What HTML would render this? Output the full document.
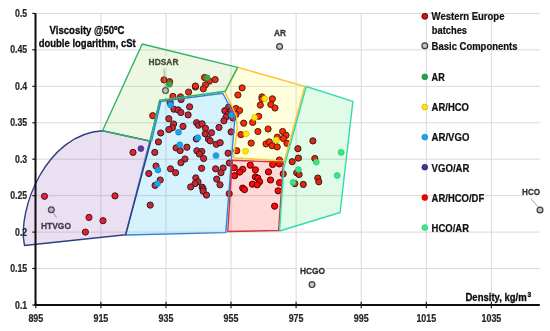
<!DOCTYPE html>
<html><head><meta charset="utf-8"><style>
html,body{margin:0;padding:0;background:#fff;}
body{width:550px;height:331px;overflow:hidden;}
svg{display:block;}
text{font-family:"Liberation Sans",Arial,sans-serif;font-weight:bold;fill:#262626;}
.g{stroke:#d9d9d9;stroke-width:1;}
.ax{font-size:10px;fill:#262626;stroke:#262626;stroke-width:0.2px;}
.lg{font-size:10.5px;fill:#111;stroke:#111;stroke-width:0.22px;}
.lb{font-size:9.3px;fill:#333;stroke:#333;stroke-width:0.3px;}
.tt{font-size:11.6px;fill:#0a0a0a;stroke:#0a0a0a;stroke-width:0.3px;}
</style></head><body>
<svg width="550" height="331" viewBox="0 0 550 331">
<rect width="550" height="331" fill="#fff"/>
<line x1="100.88" y1="13.4" x2="100.88" y2="305" class="g"/>
<line x1="165.96" y1="13.4" x2="165.96" y2="305" class="g"/>
<line x1="231.04" y1="13.4" x2="231.04" y2="305" class="g"/>
<line x1="296.12" y1="13.4" x2="296.12" y2="305" class="g"/>
<line x1="361.20" y1="13.4" x2="361.20" y2="305" class="g"/>
<line x1="426.28" y1="13.4" x2="426.28" y2="305" class="g"/>
<line x1="491.36" y1="13.4" x2="491.36" y2="305" class="g"/>
<line x1="35.5" y1="268.55" x2="540" y2="268.55" class="g"/>
<line x1="35.5" y1="232.10" x2="540" y2="232.10" class="g"/>
<line x1="35.5" y1="195.65" x2="540" y2="195.65" class="g"/>
<line x1="35.5" y1="159.20" x2="540" y2="159.20" class="g"/>
<line x1="35.5" y1="122.75" x2="540" y2="122.75" class="g"/>
<line x1="35.5" y1="86.30" x2="540" y2="86.30" class="g"/>
<line x1="35.5" y1="49.85" x2="540" y2="49.85" class="g"/>
<line x1="35.5" y1="13.40" x2="540" y2="13.40" class="g"/>
<rect x="37" y="25" width="100" height="24" fill="#fff"/>
<text x="87" y="34.1" class="tt" text-anchor="middle" textLength="75" lengthAdjust="spacingAndGlyphs">Viscosity @50ºC</text>
<text x="87.2" y="47.1" class="tt" text-anchor="middle" textLength="97" lengthAdjust="spacingAndGlyphs">double logarithm, cSt</text>
<rect x="297" y="264" width="29.5" height="11" fill="#fff"/>
<rect x="147" y="56" width="33" height="11" fill="#fff"/>
<rect x="39.5" y="220.5" width="33" height="10.5" fill="#fff"/>
<rect x="272.5" y="28" width="15" height="10.5" fill="#fff"/>
<rect x="521.8" y="185" width="28.2" height="12" fill="#fff"/>
<text x="148.6" y="64.6" class="lb" textLength="29.9" lengthAdjust="spacingAndGlyphs">HDSAR</text>
<text x="41.0" y="228.9" class="lb" textLength="30.0" lengthAdjust="spacingAndGlyphs">HTVGO</text>
<text x="274.0" y="36.4" class="lb" textLength="11.9" lengthAdjust="spacingAndGlyphs">AR</text>
<text x="299.9" y="273.7" class="lb" textLength="25.1" lengthAdjust="spacingAndGlyphs">HCGO</text>
<text x="522.1" y="194.7" class="lb" textLength="17.9" lengthAdjust="spacingAndGlyphs">HCO</text>

<circle cx="164.0" cy="79.9" r="3.1" fill="#ff0a0a" stroke="#300404" stroke-width="1.0"/>
<circle cx="169.6" cy="81.7" r="3.1" fill="#ff0a0a" stroke="#300404" stroke-width="1.0"/>
<circle cx="188.6" cy="92.1" r="3.1" fill="#ff0a0a" stroke="#300404" stroke-width="1.0"/>
<circle cx="195.4" cy="87.0" r="3.1" fill="#ff0a0a" stroke="#300404" stroke-width="1.0"/>
<circle cx="195.4" cy="86.0" r="3.1" fill="#ff0a0a" stroke="#300404" stroke-width="1.0"/>
<circle cx="172.9" cy="96.4" r="3.1" fill="#ff0a0a" stroke="#300404" stroke-width="1.0"/>
<circle cx="180.5" cy="96.9" r="3.1" fill="#ff0a0a" stroke="#300404" stroke-width="1.0"/>
<circle cx="181.1" cy="99.6" r="3.1" fill="#ff0a0a" stroke="#300404" stroke-width="1.0"/>
<circle cx="170.2" cy="102.7" r="3.1" fill="#ff0a0a" stroke="#300404" stroke-width="1.0"/>
<circle cx="189.6" cy="106.8" r="3.1" fill="#ff0a0a" stroke="#300404" stroke-width="1.0"/>
<circle cx="173.9" cy="109.2" r="3.1" fill="#ff0a0a" stroke="#300404" stroke-width="1.0"/>
<circle cx="178.1" cy="109.9" r="3.1" fill="#ff0a0a" stroke="#300404" stroke-width="1.0"/>
<circle cx="180.9" cy="112.5" r="3.1" fill="#ff0a0a" stroke="#300404" stroke-width="1.0"/>
<circle cx="188.1" cy="114.9" r="3.1" fill="#ff0a0a" stroke="#300404" stroke-width="1.0"/>
<circle cx="204.5" cy="77.5" r="3.1" fill="#ff0a0a" stroke="#300404" stroke-width="1.0"/>
<circle cx="209.4" cy="81.2" r="3.1" fill="#ff0a0a" stroke="#300404" stroke-width="1.0"/>
<circle cx="215.2" cy="79.6" r="3.1" fill="#ff0a0a" stroke="#300404" stroke-width="1.0"/>
<circle cx="205.5" cy="84.8" r="3.1" fill="#ff0a0a" stroke="#300404" stroke-width="1.0"/>
<circle cx="203.3" cy="88.8" r="3.1" fill="#ff0a0a" stroke="#300404" stroke-width="1.0"/>
<circle cx="242.1" cy="87.9" r="3.1" fill="#ff0a0a" stroke="#300404" stroke-width="1.0"/>
<circle cx="237.9" cy="95.0" r="3.1" fill="#ff0a0a" stroke="#300404" stroke-width="1.0"/>
<circle cx="262.0" cy="96.9" r="3.1" fill="#ff0a0a" stroke="#300404" stroke-width="1.0"/>
<circle cx="262.0" cy="99.0" r="3.1" fill="#ff0a0a" stroke="#300404" stroke-width="1.0"/>
<circle cx="272.4" cy="98.8" r="3.1" fill="#ff0a0a" stroke="#300404" stroke-width="1.0"/>
<circle cx="260.3" cy="105.1" r="3.1" fill="#ff0a0a" stroke="#300404" stroke-width="1.0"/>
<circle cx="270.8" cy="104.5" r="3.1" fill="#ff0a0a" stroke="#300404" stroke-width="1.0"/>
<circle cx="275.0" cy="108.0" r="3.1" fill="#ff0a0a" stroke="#300404" stroke-width="1.0"/>
<circle cx="152.7" cy="115.7" r="3.1" fill="#ff0a0a" stroke="#300404" stroke-width="1.0"/>
<circle cx="168.8" cy="118.7" r="3.1" fill="#ff0a0a" stroke="#300404" stroke-width="1.0"/>
<circle cx="173.6" cy="124.0" r="3.1" fill="#ff0a0a" stroke="#300404" stroke-width="1.0"/>
<circle cx="183.0" cy="126.4" r="3.1" fill="#ff0a0a" stroke="#300404" stroke-width="1.0"/>
<circle cx="172.4" cy="127.8" r="3.1" fill="#ff0a0a" stroke="#300404" stroke-width="1.0"/>
<circle cx="168.8" cy="129.6" r="3.1" fill="#ff0a0a" stroke="#300404" stroke-width="1.0"/>
<circle cx="160.7" cy="133.0" r="3.1" fill="#ff0a0a" stroke="#300404" stroke-width="1.0"/>
<circle cx="196.6" cy="122.7" r="3.1" fill="#ff0a0a" stroke="#300404" stroke-width="1.0"/>
<circle cx="198.5" cy="125.2" r="3.1" fill="#ff0a0a" stroke="#300404" stroke-width="1.0"/>
<circle cx="196.3" cy="139.0" r="3.1" fill="#ff0a0a" stroke="#300404" stroke-width="1.0"/>
<circle cx="224.8" cy="110.7" r="3.1" fill="#ff0a0a" stroke="#300404" stroke-width="1.0"/>
<circle cx="228.7" cy="107.1" r="3.1" fill="#ff0a0a" stroke="#300404" stroke-width="1.0"/>
<circle cx="228.1" cy="114.4" r="3.1" fill="#ff0a0a" stroke="#300404" stroke-width="1.0"/>
<circle cx="226.0" cy="117.1" r="3.1" fill="#ff0a0a" stroke="#300404" stroke-width="1.0"/>
<circle cx="223.9" cy="120.8" r="3.1" fill="#ff0a0a" stroke="#300404" stroke-width="1.0"/>
<circle cx="231.1" cy="110.5" r="3.1" fill="#ff0a0a" stroke="#300404" stroke-width="1.0"/>
<circle cx="232.9" cy="118.0" r="3.1" fill="#ff0a0a" stroke="#300404" stroke-width="1.0"/>
<circle cx="236.0" cy="108.5" r="3.1" fill="#ff0a0a" stroke="#300404" stroke-width="1.0"/>
<circle cx="239.6" cy="110.5" r="3.1" fill="#ff0a0a" stroke="#300404" stroke-width="1.0"/>
<circle cx="236.0" cy="114.4" r="3.1" fill="#ff0a0a" stroke="#300404" stroke-width="1.0"/>
<circle cx="243.7" cy="123.2" r="3.1" fill="#ff0a0a" stroke="#300404" stroke-width="1.0"/>
<circle cx="202.1" cy="123.8" r="3.1" fill="#ff0a0a" stroke="#300404" stroke-width="1.0"/>
<circle cx="205.5" cy="128.3" r="3.1" fill="#ff0a0a" stroke="#300404" stroke-width="1.0"/>
<circle cx="219.0" cy="127.4" r="3.1" fill="#ff0a0a" stroke="#300404" stroke-width="1.0"/>
<circle cx="211.5" cy="132.7" r="3.1" fill="#ff0a0a" stroke="#300404" stroke-width="1.0"/>
<circle cx="205.2" cy="133.8" r="3.1" fill="#ff0a0a" stroke="#300404" stroke-width="1.0"/>
<circle cx="231.1" cy="131.9" r="3.1" fill="#ff0a0a" stroke="#300404" stroke-width="1.0"/>
<circle cx="240.9" cy="134.6" r="3.1" fill="#ff0a0a" stroke="#300404" stroke-width="1.0"/>
<circle cx="258.7" cy="116.3" r="3.1" fill="#ff0a0a" stroke="#300404" stroke-width="1.0"/>
<circle cx="252.7" cy="122.4" r="3.1" fill="#ff0a0a" stroke="#300404" stroke-width="1.0"/>
<circle cx="268.1" cy="129.0" r="3.1" fill="#ff0a0a" stroke="#300404" stroke-width="1.0"/>
<circle cx="257.9" cy="131.5" r="3.1" fill="#ff0a0a" stroke="#300404" stroke-width="1.0"/>
<circle cx="282.6" cy="131.5" r="3.1" fill="#ff0a0a" stroke="#300404" stroke-width="1.0"/>
<circle cx="286.0" cy="135.3" r="3.1" fill="#ff0a0a" stroke="#300404" stroke-width="1.0"/>
<circle cx="277.3" cy="137.2" r="3.1" fill="#ff0a0a" stroke="#300404" stroke-width="1.0"/>
<circle cx="283.4" cy="138.5" r="3.1" fill="#ff0a0a" stroke="#300404" stroke-width="1.0"/>
<circle cx="158.4" cy="141.9" r="3.1" fill="#ff0a0a" stroke="#300404" stroke-width="1.0"/>
<circle cx="176.0" cy="147.9" r="3.1" fill="#ff0a0a" stroke="#300404" stroke-width="1.0"/>
<circle cx="180.2" cy="150.6" r="3.1" fill="#ff0a0a" stroke="#300404" stroke-width="1.0"/>
<circle cx="186.9" cy="147.2" r="3.1" fill="#ff0a0a" stroke="#300404" stroke-width="1.0"/>
<circle cx="133.0" cy="152.4" r="3.1" fill="#ff0a0a" stroke="#300404" stroke-width="1.0"/>
<circle cx="154.8" cy="152.4" r="3.1" fill="#ff0a0a" stroke="#300404" stroke-width="1.0"/>
<circle cx="185.0" cy="159.0" r="3.1" fill="#ff0a0a" stroke="#300404" stroke-width="1.0"/>
<circle cx="180.9" cy="162.7" r="3.1" fill="#ff0a0a" stroke="#300404" stroke-width="1.0"/>
<circle cx="156.0" cy="166.0" r="3.1" fill="#ff0a0a" stroke="#300404" stroke-width="1.0"/>
<circle cx="170.5" cy="168.8" r="3.1" fill="#ff0a0a" stroke="#300404" stroke-width="1.0"/>
<circle cx="208.4" cy="139.1" r="3.1" fill="#ff0a0a" stroke="#300404" stroke-width="1.0"/>
<circle cx="210.2" cy="140.9" r="3.1" fill="#ff0a0a" stroke="#300404" stroke-width="1.0"/>
<circle cx="216.3" cy="144.3" r="3.1" fill="#ff0a0a" stroke="#300404" stroke-width="1.0"/>
<circle cx="220.2" cy="142.7" r="3.1" fill="#ff0a0a" stroke="#300404" stroke-width="1.0"/>
<circle cx="196.9" cy="150.8" r="3.1" fill="#ff0a0a" stroke="#300404" stroke-width="1.0"/>
<circle cx="201.8" cy="151.5" r="3.1" fill="#ff0a0a" stroke="#300404" stroke-width="1.0"/>
<circle cx="199.4" cy="154.0" r="3.1" fill="#ff0a0a" stroke="#300404" stroke-width="1.0"/>
<circle cx="203.6" cy="158.5" r="3.1" fill="#ff0a0a" stroke="#300404" stroke-width="1.0"/>
<circle cx="228.1" cy="153.2" r="3.1" fill="#ff0a0a" stroke="#300404" stroke-width="1.0"/>
<circle cx="201.6" cy="168.3" r="3.1" fill="#ff0a0a" stroke="#300404" stroke-width="1.0"/>
<circle cx="215.6" cy="168.8" r="3.1" fill="#ff0a0a" stroke="#300404" stroke-width="1.0"/>
<circle cx="223.1" cy="168.0" r="3.1" fill="#ff0a0a" stroke="#300404" stroke-width="1.0"/>
<circle cx="229.3" cy="163.0" r="3.1" fill="#ff0a0a" stroke="#300404" stroke-width="1.0"/>
<circle cx="236.8" cy="150.7" r="3.1" fill="#ff0a0a" stroke="#300404" stroke-width="1.0"/>
<circle cx="234.2" cy="167.8" r="3.1" fill="#ff0a0a" stroke="#300404" stroke-width="1.0"/>
<circle cx="286.9" cy="143.3" r="3.1" fill="#ff0a0a" stroke="#300404" stroke-width="1.0"/>
<circle cx="251.2" cy="143.1" r="3.1" fill="#ff0a0a" stroke="#300404" stroke-width="1.0"/>
<circle cx="266.0" cy="143.9" r="3.1" fill="#ff0a0a" stroke="#300404" stroke-width="1.0"/>
<circle cx="269.3" cy="141.9" r="3.1" fill="#ff0a0a" stroke="#300404" stroke-width="1.0"/>
<circle cx="272.1" cy="145.7" r="3.1" fill="#ff0a0a" stroke="#300404" stroke-width="1.0"/>
<circle cx="277.2" cy="146.9" r="3.1" fill="#ff0a0a" stroke="#300404" stroke-width="1.0"/>
<circle cx="279.4" cy="160.0" r="3.1" fill="#ff0a0a" stroke="#300404" stroke-width="1.0"/>
<circle cx="272.6" cy="164.5" r="3.1" fill="#ff0a0a" stroke="#300404" stroke-width="1.0"/>
<circle cx="279.3" cy="163.9" r="3.1" fill="#ff0a0a" stroke="#300404" stroke-width="1.0"/>
<circle cx="250.3" cy="165.2" r="3.1" fill="#ff0a0a" stroke="#300404" stroke-width="1.0"/>
<circle cx="242.7" cy="169.3" r="3.1" fill="#ff0a0a" stroke="#300404" stroke-width="1.0"/>
<circle cx="255.4" cy="169.8" r="3.1" fill="#ff0a0a" stroke="#300404" stroke-width="1.0"/>
<circle cx="312.9" cy="140.9" r="3.1" fill="#ff0a0a" stroke="#300404" stroke-width="1.0"/>
<circle cx="297.9" cy="148.7" r="3.1" fill="#ff0a0a" stroke="#300404" stroke-width="1.0"/>
<circle cx="298.4" cy="158.1" r="3.1" fill="#ff0a0a" stroke="#300404" stroke-width="1.0"/>
<circle cx="292.2" cy="161.7" r="3.1" fill="#ff0a0a" stroke="#300404" stroke-width="1.0"/>
<circle cx="314.8" cy="158.5" r="3.1" fill="#ff0a0a" stroke="#300404" stroke-width="1.0"/>
<circle cx="296.7" cy="172.7" r="3.1" fill="#ff0a0a" stroke="#300404" stroke-width="1.0"/>
<circle cx="299.1" cy="174.5" r="3.1" fill="#ff0a0a" stroke="#300404" stroke-width="1.0"/>
<circle cx="317.8" cy="178.1" r="3.1" fill="#ff0a0a" stroke="#300404" stroke-width="1.0"/>
<circle cx="318.8" cy="181.8" r="3.1" fill="#ff0a0a" stroke="#300404" stroke-width="1.0"/>
<circle cx="294.8" cy="183.6" r="3.1" fill="#ff0a0a" stroke="#300404" stroke-width="1.0"/>
<circle cx="303.3" cy="184.4" r="3.1" fill="#ff0a0a" stroke="#300404" stroke-width="1.0"/>
<circle cx="239.7" cy="172.1" r="3.1" fill="#ff0a0a" stroke="#300404" stroke-width="1.0"/>
<circle cx="234.6" cy="175.7" r="3.1" fill="#ff0a0a" stroke="#300404" stroke-width="1.0"/>
<circle cx="268.5" cy="171.9" r="3.1" fill="#ff0a0a" stroke="#300404" stroke-width="1.0"/>
<circle cx="283.2" cy="173.9" r="3.1" fill="#ff0a0a" stroke="#300404" stroke-width="1.0"/>
<circle cx="255.4" cy="176.9" r="3.1" fill="#ff0a0a" stroke="#300404" stroke-width="1.0"/>
<circle cx="257.8" cy="178.1" r="3.1" fill="#ff0a0a" stroke="#300404" stroke-width="1.0"/>
<circle cx="259.6" cy="181.8" r="3.1" fill="#ff0a0a" stroke="#300404" stroke-width="1.0"/>
<circle cx="270.5" cy="180.0" r="3.1" fill="#ff0a0a" stroke="#300404" stroke-width="1.0"/>
<circle cx="279.6" cy="182.7" r="3.1" fill="#ff0a0a" stroke="#300404" stroke-width="1.0"/>
<circle cx="252.4" cy="184.2" r="3.1" fill="#ff0a0a" stroke="#300404" stroke-width="1.0"/>
<circle cx="257.2" cy="184.8" r="3.1" fill="#ff0a0a" stroke="#300404" stroke-width="1.0"/>
<circle cx="242.7" cy="188.1" r="3.1" fill="#ff0a0a" stroke="#300404" stroke-width="1.0"/>
<circle cx="244.5" cy="189.6" r="3.1" fill="#ff0a0a" stroke="#300404" stroke-width="1.0"/>
<circle cx="278.1" cy="190.8" r="3.1" fill="#ff0a0a" stroke="#300404" stroke-width="1.0"/>
<circle cx="229.2" cy="193.7" r="3.1" fill="#ff0a0a" stroke="#300404" stroke-width="1.0"/>
<circle cx="274.6" cy="206.2" r="3.1" fill="#ff0a0a" stroke="#300404" stroke-width="1.0"/>
<circle cx="175.6" cy="172.7" r="3.1" fill="#ff0a0a" stroke="#300404" stroke-width="1.0"/>
<circle cx="221.0" cy="172.7" r="3.1" fill="#ff0a0a" stroke="#300404" stroke-width="1.0"/>
<circle cx="195.8" cy="177.9" r="3.1" fill="#ff0a0a" stroke="#300404" stroke-width="1.0"/>
<circle cx="198.0" cy="181.8" r="3.1" fill="#ff0a0a" stroke="#300404" stroke-width="1.0"/>
<circle cx="195.0" cy="183.6" r="3.1" fill="#ff0a0a" stroke="#300404" stroke-width="1.0"/>
<circle cx="190.7" cy="186.9" r="3.1" fill="#ff0a0a" stroke="#300404" stroke-width="1.0"/>
<circle cx="202.2" cy="187.2" r="3.1" fill="#ff0a0a" stroke="#300404" stroke-width="1.0"/>
<circle cx="203.1" cy="189.0" r="3.1" fill="#ff0a0a" stroke="#300404" stroke-width="1.0"/>
<circle cx="203.1" cy="191.2" r="3.1" fill="#ff0a0a" stroke="#300404" stroke-width="1.0"/>
<circle cx="206.5" cy="195.1" r="3.1" fill="#ff0a0a" stroke="#300404" stroke-width="1.0"/>
<circle cx="216.7" cy="179.1" r="3.1" fill="#ff0a0a" stroke="#300404" stroke-width="1.0"/>
<circle cx="220.0" cy="184.8" r="3.1" fill="#ff0a0a" stroke="#300404" stroke-width="1.0"/>
<circle cx="148.8" cy="173.5" r="3.1" fill="#ff0a0a" stroke="#300404" stroke-width="1.0"/>
<circle cx="160.2" cy="180.0" r="3.1" fill="#ff0a0a" stroke="#300404" stroke-width="1.0"/>
<circle cx="155.1" cy="185.4" r="3.1" fill="#ff0a0a" stroke="#300404" stroke-width="1.0"/>
<circle cx="150.2" cy="205.1" r="3.1" fill="#ff0a0a" stroke="#300404" stroke-width="1.0"/>
<circle cx="44.5" cy="196.3" r="3.1" fill="#ff0a0a" stroke="#300404" stroke-width="1.0"/>
<circle cx="115.0" cy="195.9" r="3.1" fill="#ff0a0a" stroke="#300404" stroke-width="1.0"/>
<circle cx="89.0" cy="217.4" r="3.1" fill="#ff0a0a" stroke="#300404" stroke-width="1.0"/>
<circle cx="103.0" cy="220.7" r="3.1" fill="#ff0a0a" stroke="#300404" stroke-width="1.0"/>
<circle cx="85.4" cy="232.1" r="3.1" fill="#ff0a0a" stroke="#300404" stroke-width="1.0"/>
<circle cx="169.4" cy="84.3" r="2.95" fill="#22a548" stroke="#1b7d35" stroke-width="0.7"/>
<circle cx="207.2" cy="77.9" r="2.95" fill="#22a548" stroke="#1b7d35" stroke-width="0.7"/>
<circle cx="264.8" cy="98.8" r="2.95" fill="#ffe600" stroke="#e0a800" stroke-width="0.7"/>
<circle cx="246.2" cy="133.8" r="2.95" fill="#ffe600" stroke="#e0a800" stroke-width="0.7"/>
<circle cx="254.5" cy="117.5" r="2.95" fill="#ffe600" stroke="#e0a800" stroke-width="0.7"/>
<circle cx="276.4" cy="140.0" r="2.95" fill="#ffe600" stroke="#e0a800" stroke-width="0.7"/>
<circle cx="245.5" cy="151.2" r="2.95" fill="#ffe600" stroke="#e0a800" stroke-width="0.7"/>
<circle cx="170.6" cy="105.1" r="2.95" fill="#1ca4ec" stroke="#1580c0" stroke-width="0.7"/>
<circle cx="178.5" cy="132.2" r="2.95" fill="#1ca4ec" stroke="#1580c0" stroke-width="0.7"/>
<circle cx="197.8" cy="137.7" r="2.95" fill="#1ca4ec" stroke="#1580c0" stroke-width="0.7"/>
<circle cx="231.7" cy="115.0" r="2.95" fill="#1ca4ec" stroke="#1580c0" stroke-width="0.7"/>
<circle cx="179.8" cy="144.8" r="2.95" fill="#1ca4ec" stroke="#1580c0" stroke-width="0.7"/>
<circle cx="158.0" cy="170.0" r="2.95" fill="#1ca4ec" stroke="#1580c0" stroke-width="0.7"/>
<circle cx="216.0" cy="155.6" r="2.95" fill="#1ca4ec" stroke="#1580c0" stroke-width="0.7"/>
<circle cx="157.5" cy="183.6" r="2.95" fill="#1ca4ec" stroke="#1580c0" stroke-width="0.7"/>
<circle cx="140.9" cy="148.6" r="2.95" fill="#4f2f9a" stroke="#2e1e6a" stroke-width="0.7"/>
<circle cx="316.3" cy="162.1" r="2.95" fill="#3ce88c" stroke="#28c070" stroke-width="0.7"/>
<circle cx="298.4" cy="169.6" r="2.95" fill="#3ce88c" stroke="#28c070" stroke-width="0.7"/>
<circle cx="341.2" cy="152.4" r="2.95" fill="#3ce88c" stroke="#28c070" stroke-width="0.7"/>
<circle cx="337.2" cy="175.5" r="2.95" fill="#3ce88c" stroke="#28c070" stroke-width="0.7"/>
<circle cx="293.0" cy="182.4" r="2.95" fill="#3ce88c" stroke="#28c070" stroke-width="0.7"/>
<circle cx="165.5" cy="90.6" r="2.9" fill="#c4c4c4" stroke="#3a3a3a" stroke-width="1.2"/>
<circle cx="51.3" cy="209.8" r="2.9" fill="#c4c4c4" stroke="#3a3a3a" stroke-width="1.2"/>
<circle cx="279.6" cy="46.5" r="2.9" fill="#c4c4c4" stroke="#3a3a3a" stroke-width="1.2"/>
<circle cx="312.0" cy="284.6" r="2.9" fill="#c4c4c4" stroke="#3a3a3a" stroke-width="1.2"/>
<circle cx="540.0" cy="210.0" r="2.9" fill="#c4c4c4" stroke="#3a3a3a" stroke-width="1.2"/>

<line x1="163.9" y1="68.5" x2="165.3" y2="87.5" stroke="#8c8c8c" stroke-width="0.8"/>
<line x1="53.0" y1="212.6" x2="56.6" y2="217.6" stroke="#8c8c8c" stroke-width="0.8"/>
<line x1="531.0" y1="198.6" x2="538.0" y2="206.9" stroke="#8c8c8c" stroke-width="0.8"/>

<path d="M237.6,67.4 L304.8,86.4 L284.3,161.2 L233.6,157.7 L237.2,128 L236.3,115.5 L224.7,91.6 Z" fill="rgb(255,255,0)" fill-opacity="0.13" stroke="#ffc125" stroke-width="1.4" stroke-linejoin="round"/>
<path d="M159.9,101.5 L222.8,93.2 L235,116.5 L231.6,158 L225.8,232.6 L125.6,235 Z" fill="rgb(0,176,240)" fill-opacity="0.16" stroke="#2e86d1" stroke-width="1.4" stroke-linejoin="round"/>
<path d="M232.2,160.3 L283.3,162.2 L278.6,230.5 L227.8,231.5 Z" fill="rgb(255,0,0)" fill-opacity="0.153" stroke="#d0343e" stroke-width="1.4" stroke-linejoin="round"/>
<path d="M306.2,86.5 L352.9,101.4 L340.1,212.5 L279.6,231 L283.8,168 Z" fill="rgb(20,225,80)" fill-opacity="0.135" stroke="#33ddaa" stroke-width="1.4" stroke-linejoin="round"/>
<path d="M24.5,245.5 C16.8,209.6 46.6,133.7 102.5,130.8 L150.8,141.2 L125.6,234.8 Z" fill="rgb(150,100,185)" fill-opacity="0.2" stroke="#2d4182" stroke-width="1.4" stroke-linejoin="round"/>
<path d="M142.2,44 L237.6,67.4 L225.4,91.3 L159.6,100.2 L150.3,141.1 L102.5,130.8 Z" fill="rgb(146,208,80)" fill-opacity="0.165" stroke="#2db466" stroke-width="1.4" stroke-linejoin="round"/>
<path d="M160.9,101.6 L151.6,141.2" stroke="#2e86d1" stroke-width="1.3" fill="none"/>

<line x1="35.5" y1="13.2" x2="35.5" y2="306" stroke="#0d0d0d" stroke-width="2"/>
<line x1="34.5" y1="305" x2="539.8" y2="305" stroke="#0d0d0d" stroke-width="2"/>
<line x1="32.3" y1="305.0" x2="35.5" y2="305.0" stroke="#0d0d0d" stroke-width="1.1"/>
<text x="27.2" y="308.6" class="ax" text-anchor="end" textLength="12.16" lengthAdjust="spacingAndGlyphs">0.1</text>
<line x1="32.3" y1="268.5" x2="35.5" y2="268.5" stroke="#0d0d0d" stroke-width="1.1"/>
<text x="27.2" y="272.1" class="ax" text-anchor="end" textLength="17.03" lengthAdjust="spacingAndGlyphs">0.15</text>
<line x1="32.3" y1="232.1" x2="35.5" y2="232.1" stroke="#0d0d0d" stroke-width="1.1"/>
<text x="27.2" y="235.7" class="ax" text-anchor="end" textLength="12.16" lengthAdjust="spacingAndGlyphs">0.2</text>
<line x1="32.3" y1="195.7" x2="35.5" y2="195.7" stroke="#0d0d0d" stroke-width="1.1"/>
<text x="27.2" y="199.2" class="ax" text-anchor="end" textLength="17.03" lengthAdjust="spacingAndGlyphs">0.25</text>
<line x1="32.3" y1="159.2" x2="35.5" y2="159.2" stroke="#0d0d0d" stroke-width="1.1"/>
<text x="27.2" y="162.8" class="ax" text-anchor="end" textLength="12.16" lengthAdjust="spacingAndGlyphs">0.3</text>
<line x1="32.3" y1="122.8" x2="35.5" y2="122.8" stroke="#0d0d0d" stroke-width="1.1"/>
<text x="27.2" y="126.4" class="ax" text-anchor="end" textLength="17.03" lengthAdjust="spacingAndGlyphs">0.35</text>
<line x1="32.3" y1="86.3" x2="35.5" y2="86.3" stroke="#0d0d0d" stroke-width="1.1"/>
<text x="27.2" y="89.9" class="ax" text-anchor="end" textLength="12.16" lengthAdjust="spacingAndGlyphs">0.4</text>
<line x1="32.3" y1="49.8" x2="35.5" y2="49.8" stroke="#0d0d0d" stroke-width="1.1"/>
<text x="27.2" y="53.4" class="ax" text-anchor="end" textLength="17.03" lengthAdjust="spacingAndGlyphs">0.45</text>
<line x1="32.3" y1="13.4" x2="35.5" y2="13.4" stroke="#0d0d0d" stroke-width="1.1"/>
<text x="27.2" y="17.0" class="ax" text-anchor="end" textLength="12.16" lengthAdjust="spacingAndGlyphs">0.5</text>
<line x1="35.8" y1="301.8" x2="35.8" y2="308.3" stroke="#0d0d0d" stroke-width="1.1"/>
<text x="35.8" y="321.9" class="ax" text-anchor="middle" textLength="14.85" lengthAdjust="spacingAndGlyphs">895</text>
<line x1="100.9" y1="301.8" x2="100.9" y2="308.3" stroke="#0d0d0d" stroke-width="1.1"/>
<text x="100.9" y="321.9" class="ax" text-anchor="middle" textLength="14.85" lengthAdjust="spacingAndGlyphs">915</text>
<line x1="166.0" y1="301.8" x2="166.0" y2="308.3" stroke="#0d0d0d" stroke-width="1.1"/>
<text x="166.0" y="321.9" class="ax" text-anchor="middle" textLength="14.85" lengthAdjust="spacingAndGlyphs">935</text>
<line x1="231.0" y1="301.8" x2="231.0" y2="308.3" stroke="#0d0d0d" stroke-width="1.1"/>
<text x="231.0" y="321.9" class="ax" text-anchor="middle" textLength="14.85" lengthAdjust="spacingAndGlyphs">955</text>
<line x1="296.1" y1="301.8" x2="296.1" y2="308.3" stroke="#0d0d0d" stroke-width="1.1"/>
<text x="296.1" y="321.9" class="ax" text-anchor="middle" textLength="14.85" lengthAdjust="spacingAndGlyphs">975</text>
<line x1="361.2" y1="301.8" x2="361.2" y2="308.3" stroke="#0d0d0d" stroke-width="1.1"/>
<text x="361.2" y="321.9" class="ax" text-anchor="middle" textLength="14.85" lengthAdjust="spacingAndGlyphs">995</text>
<line x1="426.3" y1="301.8" x2="426.3" y2="308.3" stroke="#0d0d0d" stroke-width="1.1"/>
<text x="426.3" y="321.9" class="ax" text-anchor="middle" textLength="19.79" lengthAdjust="spacingAndGlyphs">1015</text>
<line x1="491.4" y1="301.8" x2="491.4" y2="308.3" stroke="#0d0d0d" stroke-width="1.1"/>
<text x="491.4" y="321.9" class="ax" text-anchor="middle" textLength="19.79" lengthAdjust="spacingAndGlyphs">1035</text>
<text x="465.5" y="301.3" class="tt" style="font-size:10.4px" textLength="61.1" lengthAdjust="spacingAndGlyphs">Density, kg/m</text>
<text x="527.6" y="297.3" class="tt" style="font-size:6.6px">3</text>
<circle cx="424.8" cy="16.3" r="2.9" fill="#ee0a0a" stroke="#4a0606" stroke-width="1.0"/>
<text x="431.6" y="20.2" class="lg" textLength="72.9" lengthAdjust="spacingAndGlyphs">Western Europe</text>
<text x="431.8" y="33.6" class="lg" textLength="35.2" lengthAdjust="spacingAndGlyphs">batches</text>
<circle cx="424.8" cy="45.8" r="2.9" fill="#c4c4c4" stroke="#3a3a3a" stroke-width="1.2"/>
<text x="431.6" y="50.1" class="lg" textLength="85.9" lengthAdjust="spacingAndGlyphs">Basic Components</text>
<circle cx="424.8" cy="76.8" r="2.9" fill="#22a548" stroke="#1b7d35" stroke-width="0.7"/>
<text x="431.6" y="81.1" class="lg" textLength="13.1" lengthAdjust="spacingAndGlyphs">AR</text>
<circle cx="424.8" cy="107.0" r="2.9" fill="#ffe600" stroke="#e0a800" stroke-width="0.7"/>
<text x="431.6" y="111.3" class="lg" textLength="37.4" lengthAdjust="spacingAndGlyphs">AR/HCO</text>
<circle cx="424.8" cy="137.1" r="2.9" fill="#1ca4ec" stroke="#1580c0" stroke-width="0.7"/>
<text x="431.6" y="141.4" class="lg" textLength="37.8" lengthAdjust="spacingAndGlyphs">AR/VGO</text>
<circle cx="424.8" cy="167.2" r="2.9" fill="#4f2f9a" stroke="#2e1e6a" stroke-width="0.7"/>
<text x="431.6" y="171.5" class="lg" textLength="37.8" lengthAdjust="spacingAndGlyphs">VGO/AR</text>
<circle cx="424.8" cy="197.5" r="2.9" fill="#ee0000" stroke="#c00000" stroke-width="0.7"/>
<text x="431.6" y="201.8" class="lg" textLength="52.6" lengthAdjust="spacingAndGlyphs">AR/HCO/DF</text>
<circle cx="424.8" cy="227.6" r="2.9" fill="#3ce88c" stroke="#28c070" stroke-width="0.7"/>
<text x="431.6" y="231.9" class="lg" textLength="37.4" lengthAdjust="spacingAndGlyphs">HCO/AR</text>
</svg>
</body></html>
